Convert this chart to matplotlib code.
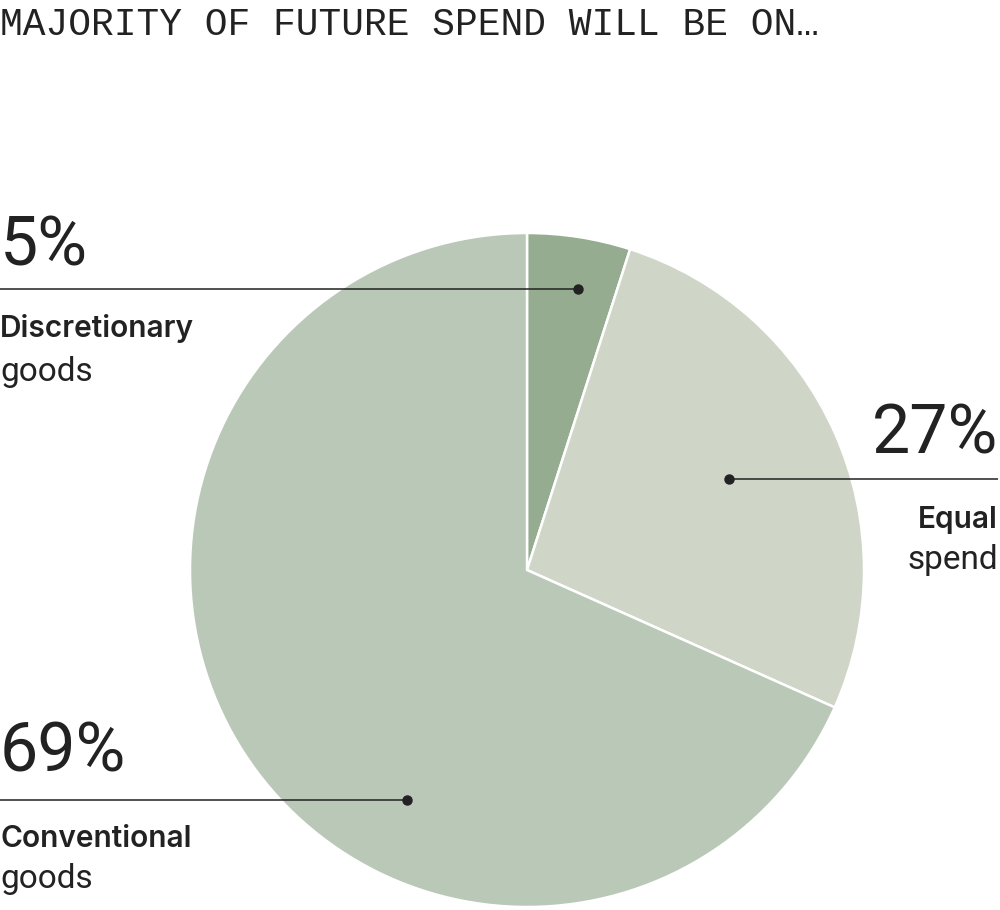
import matplotlib
matplotlib.use("Agg")
import matplotlib.pyplot as plt

title = "MAJORITY OF FUTURE SPEND WILL BE ON…"
categories = ["Discretionary goods", "Equal spend", "Conventional goods"]
bold_words = ["Discretionary", "Equal", "Conventional"]
rest_words = ["goods", "spend", "goods"]
values = [5, 27, 69]
colors = ["#96ac90", "#cfd6c8", "#bac8b7"]

W, H = 1000, 910
fig = plt.figure(figsize=(W / 100, H / 100), dpi=100)
ax = fig.add_axes([0, 0, 1, 1])

def Y(p):
    return H - p

cx, cy, r = 527, Y(570), 337
ax.pie(values, colors=colors, startangle=90, counterclock=False,
       center=(cx, cy), radius=r, frame=True,
       wedgeprops=dict(edgecolor="white", linewidth=1.8))
ax.set_xlim(0, W)
ax.set_ylim(0, H)
ax.set_aspect("equal")
ax.axis("off")

ink = "#222222"
fig.text(0.0, 1 - 35 / H, title, family="Liberation Mono", fontsize=27.3,
         color=ink, ha="left", va="baseline")

# label layout: (pct baseline, line y, dot x, line x0, line x1, bold baseline, rest baseline, align)
layout = [
    (265, 289, 578, 0, 578, 337, 381, "left"),
    (454, 479, 729, 729, 998, 528, 569, "right"),
    (772, 800, 407, 0, 407, 847, 888, "left"),
]
for v, bw, rw, (pb, ly, dx, x0, x1, bb, rb, al) in zip(values, bold_words, rest_words, layout):
    tx = 0 if al == "left" else 998
    ax.text(tx, Y(pb), f"{v}%", family="Roboto", fontsize=49, color=ink,
            ha=al, va="baseline")
    ax.plot([x0, x1], [Y(ly), Y(ly)], color=ink, lw=1.1, solid_capstyle="butt")
    ax.plot([dx], [Y(ly)], "o", color=ink, ms=6.5)
    ax.text(tx, Y(bb), bw, family="Inter", fontsize=21.5, fontweight="semibold",
            color=ink, ha=al, va="baseline")
    ax.text(tx, Y(rb), rw, family="Roboto", fontsize=24, color=ink,
            ha=al, va="baseline")

fig.savefig("out.png", dpi=100, facecolor="white")
